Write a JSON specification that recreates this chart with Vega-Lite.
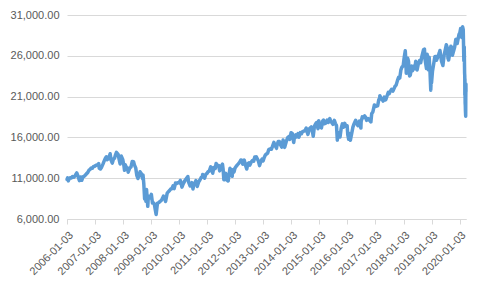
{
"$schema": "https://vega.github.io/schema/vega-lite/v6.json",
"width": 399, "height": 204,
"autosize": {"type": "none"},
"padding": {"left": 67, "top": 15, "right": 15, "bottom": 70},
"background": "white",
"data": {"values": [
{"date":"2006-01-03","close":10847},{"date":"2006-01-11","close":11043},{"date":"2006-01-20","close":10667},{"date":"2006-02-01","close":10953},{"date":"2006-02-15","close":11058},{"date":"2006-03-01","close":11025},{"date":"2006-03-15","close":11209},{"date":"2006-04-03","close":11110},{"date":"2006-04-20","close":11342},{"date":"2006-05-10","close":11642},{"date":"2006-05-25","close":11278},{"date":"2006-06-13","close":10706},{"date":"2006-06-30","close":11150},{"date":"2006-07-14","close":10740},{"date":"2006-07-31","close":11186},{"date":"2006-08-15","close":11231},{"date":"2006-08-31","close":11381},{"date":"2006-09-15","close":11560},{"date":"2006-09-29","close":11679},{"date":"2006-10-16","close":11980},{"date":"2006-10-31","close":12081},{"date":"2006-11-15","close":12251},{"date":"2006-11-30","close":12221},{"date":"2006-12-15","close":12445},{"date":"2006-12-29","close":12463},
{"date":"2007-01-12","close":12556},{"date":"2007-01-31","close":12622},{"date":"2007-02-20","close":12786},{"date":"2007-02-27","close":12216},{"date":"2007-03-14","close":12133},{"date":"2007-03-30","close":12354},{"date":"2007-04-16","close":12720},{"date":"2007-04-30","close":13063},{"date":"2007-05-15","close":13383},{"date":"2007-05-31","close":13628},{"date":"2007-06-07","close":13266},{"date":"2007-06-29","close":13409},{"date":"2007-07-19","close":14000},{"date":"2007-07-31","close":13212},{"date":"2007-08-16","close":12846},{"date":"2007-08-31","close":13358},{"date":"2007-09-14","close":13442},{"date":"2007-09-28","close":13896},{"date":"2007-10-09","close":14165},{"date":"2007-10-31","close":13930},{"date":"2007-11-13","close":13307},{"date":"2007-11-26","close":12744},{"date":"2007-12-10","close":13727},{"date":"2007-12-31","close":13265},
{"date":"2008-01-15","close":12501},{"date":"2008-01-22","close":11971},{"date":"2008-01-31","close":12650},{"date":"2008-02-15","close":12348},{"date":"2008-02-29","close":12266},{"date":"2008-03-10","close":11740},{"date":"2008-03-31","close":12263},{"date":"2008-04-15","close":12362},{"date":"2008-05-02","close":13058},{"date":"2008-05-19","close":13028},{"date":"2008-05-30","close":12638},{"date":"2008-06-16","close":12269},{"date":"2008-06-30","close":11350},{"date":"2008-07-15","close":10963},{"date":"2008-07-31","close":11378},{"date":"2008-08-11","close":11782},{"date":"2008-08-29","close":11544},{"date":"2008-09-15","close":10918},{"date":"2008-09-19","close":11388},{"date":"2008-09-29","close":10365},{"date":"2008-10-10","close":8451},{"date":"2008-10-13","close":9387},{"date":"2008-10-27","close":8176},{"date":"2008-11-04","close":9625},{"date":"2008-11-20","close":7552},{"date":"2008-11-28","close":8829},{"date":"2008-12-15","close":8564},{"date":"2008-12-31","close":8776},
{"date":"2009-01-06","close":9015},{"date":"2009-01-20","close":7949},{"date":"2009-01-30","close":8001},{"date":"2009-02-13","close":7850},{"date":"2009-02-27","close":7063},{"date":"2009-03-09","close":6547},{"date":"2009-03-26","close":7924},{"date":"2009-04-15","close":8029},{"date":"2009-04-30","close":8168},{"date":"2009-05-15","close":8268},{"date":"2009-05-29","close":8500},{"date":"2009-06-12","close":8799},{"date":"2009-06-30","close":8447},{"date":"2009-07-10","close":8146},{"date":"2009-07-31","close":9172},{"date":"2009-08-14","close":9321},{"date":"2009-08-31","close":9496},{"date":"2009-09-15","close":9683},{"date":"2009-09-30","close":9712},{"date":"2009-10-15","close":10062},{"date":"2009-10-30","close":9713},{"date":"2009-11-16","close":10406},{"date":"2009-11-30","close":10345},{"date":"2009-12-15","close":10452},{"date":"2009-12-31","close":10428},
{"date":"2010-01-19","close":10725},{"date":"2010-02-08","close":9908},{"date":"2010-02-26","close":10325},{"date":"2010-03-15","close":10642},{"date":"2010-03-31","close":10857},{"date":"2010-04-26","close":11205},{"date":"2010-05-06","close":10520},{"date":"2010-05-25","close":10043},{"date":"2010-06-18","close":10450},{"date":"2010-07-02","close":9686},{"date":"2010-07-15","close":10359},{"date":"2010-07-30","close":10466},{"date":"2010-08-09","close":10698},{"date":"2010-08-26","close":9985},{"date":"2010-09-15","close":10572},{"date":"2010-09-30","close":10788},{"date":"2010-10-15","close":11062},{"date":"2010-10-29","close":11118},{"date":"2010-11-05","close":11444},{"date":"2010-11-30","close":11006},{"date":"2010-12-15","close":11457},{"date":"2010-12-31","close":11578},
{"date":"2011-01-14","close":11787},{"date":"2011-01-31","close":11892},{"date":"2011-02-18","close":12391},{"date":"2011-02-28","close":12226},{"date":"2011-03-16","close":11613},{"date":"2011-03-31","close":12320},{"date":"2011-04-18","close":12201},{"date":"2011-04-29","close":12811},{"date":"2011-05-16","close":12548},{"date":"2011-05-31","close":12570},{"date":"2011-06-15","close":11898},{"date":"2011-06-30","close":12414},{"date":"2011-07-21","close":12724},{"date":"2011-07-29","close":12143},{"date":"2011-08-08","close":10810},{"date":"2011-08-19","close":10818},{"date":"2011-08-31","close":11614},{"date":"2011-09-22","close":10734},{"date":"2011-10-03","close":10655},{"date":"2011-10-27","close":12209},{"date":"2011-11-25","close":11231},{"date":"2011-11-30","close":12046},{"date":"2011-12-19","close":11767},{"date":"2011-12-30","close":12218},
{"date":"2012-01-13","close":12422},{"date":"2012-01-31","close":12633},{"date":"2012-02-15","close":12781},{"date":"2012-02-29","close":12952},{"date":"2012-03-16","close":13233},{"date":"2012-03-30","close":13212},{"date":"2012-04-10","close":12716},{"date":"2012-04-30","close":13214},{"date":"2012-05-15","close":12633},{"date":"2012-06-01","close":12119},{"date":"2012-06-15","close":12767},{"date":"2012-06-29","close":12880},{"date":"2012-07-12","close":12605},{"date":"2012-07-31","close":13009},{"date":"2012-08-15","close":13164},{"date":"2012-08-31","close":13091},{"date":"2012-09-14","close":13593},{"date":"2012-09-28","close":13437},{"date":"2012-10-05","close":13610},{"date":"2012-10-31","close":13096},{"date":"2012-11-15","close":12542},{"date":"2012-11-30","close":13026},{"date":"2012-12-18","close":13350},{"date":"2012-12-31","close":13104},
{"date":"2013-01-15","close":13535},{"date":"2013-01-31","close":13861},{"date":"2013-02-15","close":13981},{"date":"2013-02-28","close":14054},{"date":"2013-03-15","close":14514},{"date":"2013-03-28","close":14579},{"date":"2013-04-18","close":14537},{"date":"2013-04-30","close":14840},{"date":"2013-05-21","close":15388},{"date":"2013-05-31","close":15116},{"date":"2013-06-24","close":14660},{"date":"2013-06-28","close":14910},{"date":"2013-07-15","close":15484},{"date":"2013-07-31","close":15500},{"date":"2013-08-15","close":15112},{"date":"2013-08-30","close":14810},{"date":"2013-09-18","close":15677},{"date":"2013-09-30","close":15130},{"date":"2013-10-08","close":14776},{"date":"2013-10-31","close":15546},{"date":"2013-11-15","close":15962},{"date":"2013-11-29","close":16086},{"date":"2013-12-13","close":15755},{"date":"2013-12-31","close":16577},
{"date":"2014-01-15","close":16482},{"date":"2014-02-03","close":15373},{"date":"2014-02-14","close":16154},{"date":"2014-02-28","close":16322},{"date":"2014-03-14","close":16065},{"date":"2014-03-31","close":16458},{"date":"2014-04-11","close":16027},{"date":"2014-04-30","close":16581},{"date":"2014-05-15","close":16447},{"date":"2014-05-30","close":16717},{"date":"2014-06-16","close":16782},{"date":"2014-06-30","close":16827},{"date":"2014-07-16","close":17138},{"date":"2014-07-31","close":16563},{"date":"2014-08-07","close":16368},{"date":"2014-08-29","close":17098},{"date":"2014-09-19","close":17280},{"date":"2014-09-30","close":17043},{"date":"2014-10-15","close":16142},{"date":"2014-10-31","close":17391},{"date":"2014-11-14","close":17634},{"date":"2014-11-28","close":17828},{"date":"2014-12-16","close":17069},{"date":"2014-12-26","close":18053},{"date":"2014-12-31","close":17823},
{"date":"2015-01-15","close":17320},{"date":"2015-01-30","close":17165},{"date":"2015-02-16","close":18019},{"date":"2015-02-27","close":18133},{"date":"2015-03-10","close":17662},{"date":"2015-03-31","close":17776},{"date":"2015-04-15","close":18113},{"date":"2015-04-30","close":17841},{"date":"2015-05-19","close":18312},{"date":"2015-05-29","close":18011},{"date":"2015-06-15","close":17792},{"date":"2015-06-29","close":17596},{"date":"2015-07-17","close":18086},{"date":"2015-07-31","close":17690},{"date":"2015-08-14","close":17477},{"date":"2015-08-25","close":15666},{"date":"2015-08-31","close":16528},{"date":"2015-09-15","close":16600},{"date":"2015-09-29","close":16049},{"date":"2015-10-15","close":17141},{"date":"2015-10-30","close":17664},{"date":"2015-11-13","close":17245},{"date":"2015-11-30","close":17720},{"date":"2015-12-14","close":17368},{"date":"2015-12-31","close":17425},
{"date":"2016-01-08","close":16346},{"date":"2016-01-20","close":15766},{"date":"2016-01-29","close":16466},{"date":"2016-02-11","close":15660},{"date":"2016-02-29","close":16517},{"date":"2016-03-15","close":17251},{"date":"2016-03-31","close":17685},{"date":"2016-04-20","close":18096},{"date":"2016-04-29","close":17774},{"date":"2016-05-19","close":17436},{"date":"2016-05-31","close":17787},{"date":"2016-06-08","close":18005},{"date":"2016-06-27","close":17140},{"date":"2016-06-30","close":17930},{"date":"2016-07-15","close":18516},{"date":"2016-07-29","close":18432},{"date":"2016-08-15","close":18636},{"date":"2016-08-31","close":18401},{"date":"2016-09-09","close":18085},{"date":"2016-09-30","close":18308},{"date":"2016-10-14","close":18138},{"date":"2016-11-04","close":17888},{"date":"2016-11-15","close":18923},{"date":"2016-11-30","close":19124},{"date":"2016-12-20","close":19974},{"date":"2016-12-30","close":19763},
{"date":"2017-01-17","close":19826},{"date":"2017-01-31","close":19864},{"date":"2017-02-15","close":20612},{"date":"2017-02-28","close":20812},{"date":"2017-03-01","close":21115},{"date":"2017-03-22","close":20661},{"date":"2017-03-31","close":20663},{"date":"2017-04-13","close":20453},{"date":"2017-04-28","close":20941},{"date":"2017-05-17","close":20607},{"date":"2017-05-31","close":21009},{"date":"2017-06-19","close":21529},{"date":"2017-06-30","close":21350},{"date":"2017-07-14","close":21638},{"date":"2017-07-31","close":21891},{"date":"2017-08-10","close":21844},{"date":"2017-08-18","close":21675},{"date":"2017-08-31","close":21948},{"date":"2017-09-15","close":22268},{"date":"2017-09-29","close":22405},{"date":"2017-10-16","close":22957},{"date":"2017-10-31","close":23377},{"date":"2017-11-15","close":23272},{"date":"2017-11-30","close":24272},{"date":"2017-12-15","close":24651},{"date":"2017-12-29","close":24719},
{"date":"2018-01-12","close":25803},{"date":"2018-01-26","close":26617},{"date":"2018-02-02","close":25521},{"date":"2018-02-08","close":23860},{"date":"2018-02-26","close":25709},{"date":"2018-03-09","close":25336},{"date":"2018-03-23","close":23533},{"date":"2018-04-02","close":23644},{"date":"2018-04-18","close":24748},{"date":"2018-04-30","close":24163},{"date":"2018-05-15","close":24706},{"date":"2018-05-31","close":24416},{"date":"2018-06-11","close":25322},{"date":"2018-06-29","close":24271},{"date":"2018-07-16","close":25064},{"date":"2018-07-31","close":25415},{"date":"2018-08-15","close":25162},{"date":"2018-08-31","close":25965},{"date":"2018-09-21","close":26744},{"date":"2018-10-03","close":26828},{"date":"2018-10-10","close":25599},{"date":"2018-10-29","close":24443},{"date":"2018-11-07","close":26191},{"date":"2018-11-23","close":24286},{"date":"2018-12-03","close":25827},{"date":"2018-12-14","close":24101},{"date":"2018-12-24","close":21792},{"date":"2018-12-31","close":23327},
{"date":"2019-01-03","close":22686},{"date":"2019-01-15","close":24065},{"date":"2019-01-31","close":24999},{"date":"2019-02-15","close":25883},{"date":"2019-02-28","close":25916},{"date":"2019-03-08","close":25450},{"date":"2019-03-29","close":25929},{"date":"2019-04-15","close":26384},{"date":"2019-04-23","close":26656},{"date":"2019-05-13","close":25324},{"date":"2019-05-31","close":24815},{"date":"2019-06-17","close":26112},{"date":"2019-06-28","close":26600},{"date":"2019-07-15","close":27359},{"date":"2019-07-31","close":26864},{"date":"2019-08-05","close":25718},{"date":"2019-08-14","close":25479},{"date":"2019-08-30","close":26403},{"date":"2019-09-12","close":27182},{"date":"2019-09-30","close":26917},{"date":"2019-10-02","close":26079},{"date":"2019-10-31","close":27046},{"date":"2019-11-15","close":28005},{"date":"2019-11-29","close":28051},{"date":"2019-12-03","close":27503},{"date":"2019-12-27","close":28645},{"date":"2019-12-31","close":28538},
{"date":"2020-01-03","close":28635},{"date":"2020-01-17","close":29348},{"date":"2020-01-31","close":28256},{"date":"2020-02-12","close":29551},{"date":"2020-02-20","close":29219},{"date":"2020-02-28","close":25409},{"date":"2020-03-04","close":27091},{"date":"2020-03-09","close":23851},{"date":"2020-03-11","close":23553},{"date":"2020-03-12","close":21200},{"date":"2020-03-13","close":23185},{"date":"2020-03-16","close":20189},{"date":"2020-03-18","close":19899},{"date":"2020-03-20","close":19174},{"date":"2020-03-23","close":18592},{"date":"2020-03-24","close":20704},{"date":"2020-03-26","close":22552},{"date":"2020-03-27","close":21637}
]},
"mark": {"type": "line", "color": "#5B9BD5", "strokeWidth": 3.5, "strokeJoin": "round", "strokeCap": "round"},
"encoding": {
  "x": {"field": "date", "type": "temporal",
    "scale": {"type": "utc", "nice": false, "domain": [{"year": 2006, "month": 1, "date": 3, "utc": true}, {"year": 2020, "month": 3, "date": 27, "utc": true}]},
    "axis": {"title": null, "grid": false, "format": "%Y-%m-%d", "labelAngle": -45, "labelAlign": "right", "labelBaseline": "top", "labelPadding": 5, "domainColor": "#D9D9D9", "tickColor": "#D9D9D9", "tickSize": 5, "labelOverlap": false, "labelFlush": false,
      "values": [{"year":2006,"month":1,"date":3,"utc":true},{"year":2007,"month":1,"date":3,"utc":true},{"year":2008,"month":1,"date":3,"utc":true},{"year":2009,"month":1,"date":3,"utc":true},{"year":2010,"month":1,"date":3,"utc":true},{"year":2011,"month":1,"date":3,"utc":true},{"year":2012,"month":1,"date":3,"utc":true},{"year":2013,"month":1,"date":3,"utc":true},{"year":2014,"month":1,"date":3,"utc":true},{"year":2015,"month":1,"date":3,"utc":true},{"year":2016,"month":1,"date":3,"utc":true},{"year":2017,"month":1,"date":3,"utc":true},{"year":2018,"month":1,"date":3,"utc":true},{"year":2019,"month":1,"date":3,"utc":true},{"year":2020,"month":1,"date":3,"utc":true}]}},
  "y": {"field": "close", "type": "quantitative",
    "scale": {"domain": [6000, 31000], "nice": false, "zero": false},
    "axis": {"title": null, "values": [6000, 11000, 16000, 21000, 26000, 31000], "format": ",.2f", "domain": false, "ticks": false, "gridColor": "#D9D9D9", "labelPadding": 8}}
},
"config": {"view": {"stroke": null}, "axis": {"labelFont": "Liberation Sans", "labelFontSize": 11, "labelColor": "#595959"}}
}
